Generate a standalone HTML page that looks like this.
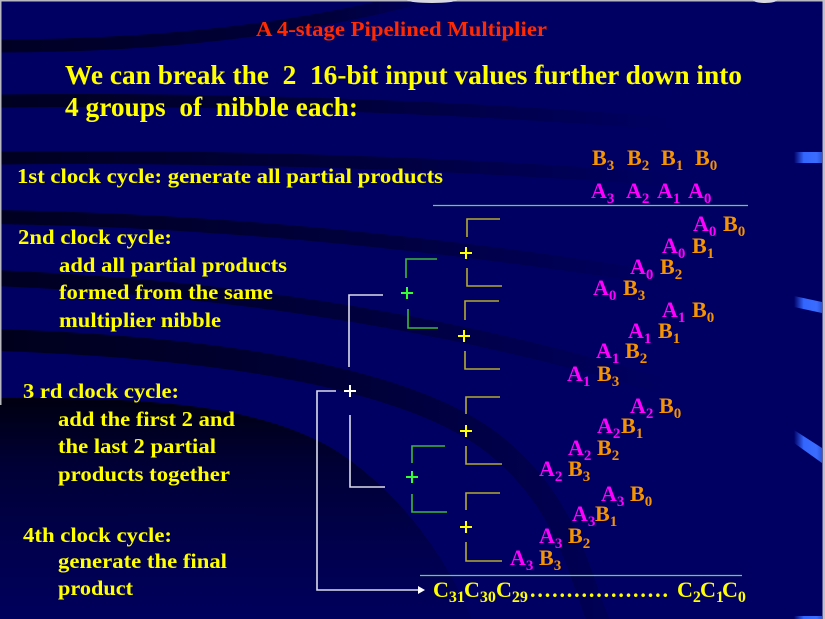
<!DOCTYPE html>
<html>
<head>
<meta charset="utf-8">
<style>
  html, body { margin: 0; padding: 0; background: #000063; }
  body { width: 825px; height: 619px; overflow: hidden; }
  svg { display: block; }
  text { font-family: "Liberation Serif", "Times New Roman", serif; font-weight: bold; white-space: pre; }
  .y { fill: #ffff00; }
  .m { fill: #ff00ff; }
  .o { fill: #f59300; }
</style>
</head>
<body>
<svg width="825" height="619" viewBox="0 0 825 619" xmlns="http://www.w3.org/2000/svg">
  <defs>
    <linearGradient id="f1" gradientUnits="userSpaceOnUse" x1="0" y1="0" x2="460" y2="0">
      <stop offset="0" stop-color="#000010" stop-opacity="0.75"/>
      <stop offset="0.7" stop-color="#000010" stop-opacity="0.5"/>
      <stop offset="1" stop-color="#000010" stop-opacity="0"/>
    </linearGradient>
    <linearGradient id="f2" gradientUnits="userSpaceOnUse" x1="0" y1="0" x2="680" y2="0">
      <stop offset="0" stop-color="#000010" stop-opacity="0.8"/>
      <stop offset="0.55" stop-color="#000010" stop-opacity="0.45"/>
      <stop offset="1" stop-color="#000010" stop-opacity="0"/>
    </linearGradient>
    <linearGradient id="fA" gradientUnits="userSpaceOnUse" x1="0" y1="0" x2="620" y2="0">
      <stop offset="0" stop-color="#000010" stop-opacity="0.85"/>
      <stop offset="0.6" stop-color="#000010" stop-opacity="0.5"/>
      <stop offset="1" stop-color="#000010" stop-opacity="0.15"/>
    </linearGradient>
    <linearGradient id="fB" gradientUnits="userSpaceOnUse" x1="0" y1="400" x2="0" y2="619">
      <stop offset="0" stop-color="#000008" stop-opacity="0.9"/>
      <stop offset="0.3" stop-color="#000010" stop-opacity="0.55"/>
      <stop offset="0.7" stop-color="#000010" stop-opacity="0.25"/>
      <stop offset="1" stop-color="#000010" stop-opacity="0.08"/>
    </linearGradient>
    <linearGradient id="bar" gradientUnits="userSpaceOnUse" x1="794" y1="0" x2="822" y2="0">
      <stop offset="0" stop-color="#000066"/>
      <stop offset="0.35" stop-color="#3366ff"/>
      <stop offset="0.8" stop-color="#3a6cff"/>
      <stop offset="1" stop-color="#2a55dd"/>
    </linearGradient>
  </defs>

  <!-- background -->
  <rect x="0" y="0" width="825" height="619" fill="#000063"/>
  <path d="M-5,46 Q250,46 440,-8" stroke="url(#f1)" stroke-width="13" fill="none"/>
  <path d="M-5,101 Q350,97 700,126" stroke="url(#f2)" stroke-width="13" fill="none"/>
  <path d="M-5,158 Q350,154 700,182" stroke="url(#f2)" stroke-width="13" fill="none"/>
  <path d="M-5,217 Q300,221 660,278" stroke="url(#f2)" stroke-width="14" fill="none"/>
  <path d="M-5,278 Q350,292 660,385" stroke="url(#f2)" stroke-width="16" fill="none"/>
  <path d="M-5,340 C250,348 420,385 495,445 S580,580 600,625" stroke="url(#fA)" stroke-width="22" fill="none"/>
  <path d="M0,398 C150,397 260,405 335,450 C400,492 445,555 472,619 L0,619 Z" fill="url(#fB)"/>

  <!-- borders -->
  <rect x="0" y="0" width="825" height="1.5" fill="#b8b8c0"/>
  <rect x="0" y="0" width="1.5" height="405" fill="#b8b8c0"/>
  <rect x="822.5" y="0" width="2.5" height="619" fill="#c0c0c8"/>
  <ellipse cx="432" cy="0" rx="25" ry="3" fill="#d8d8e0"/>
  <ellipse cx="765" cy="0" rx="12" ry="3" fill="#d8d8e0"/>

  <!-- right blue bars -->
  <polygon points="794,152 822,152 822,163 794,163" fill="url(#bar)"/>
  <polygon points="794,296 822,302 822,313 794,307" fill="url(#bar)"/>
  <polygon points="794,430 822,448 822,463 794,443" fill="url(#bar)"/>
  <polygon points="794,616 822,616 822,619 794,619" fill="url(#bar)"/>

  <!-- title -->
  <text x="256" y="36" font-size="21.5" fill="#ff2a00" textLength="291" lengthAdjust="spacingAndGlyphs">A 4-stage Pipelined Multiplier</text>

  <!-- heading -->
  <text class="y" x="65" y="84" font-size="27" textLength="677" lengthAdjust="spacingAndGlyphs">We can break the  2  16-bit input values further down into</text>
  <text class="y" x="65" y="116" font-size="27" textLength="293" lengthAdjust="spacingAndGlyphs">4 groups  of  nibble each:</text>

  <!-- left column -->
  <g font-size="21.5" class="y">
    <text class="y" x="17" y="183" textLength="426" lengthAdjust="spacingAndGlyphs">1st clock cycle: generate all partial products</text>
    <text class="y" x="18" y="244" textLength="154" lengthAdjust="spacingAndGlyphs">2nd clock cycle:</text>
    <text class="y" x="59" y="272" textLength="228" lengthAdjust="spacingAndGlyphs">add all partial products</text>
    <text class="y" x="59" y="299" textLength="214" lengthAdjust="spacingAndGlyphs">formed from the same</text>
    <text class="y" x="59" y="327" textLength="162" lengthAdjust="spacingAndGlyphs">multiplier nibble</text>
    <text class="y" x="23" y="398" textLength="156" lengthAdjust="spacingAndGlyphs">3 rd clock cycle:</text>
    <text class="y" x="58" y="426" textLength="177" lengthAdjust="spacingAndGlyphs">add the first 2 and</text>
    <text class="y" x="58" y="453" textLength="158" lengthAdjust="spacingAndGlyphs">the last 2 partial</text>
    <text class="y" x="58" y="481" textLength="172" lengthAdjust="spacingAndGlyphs">products together</text>
    <text class="y" x="23" y="542" textLength="149" lengthAdjust="spacingAndGlyphs">4th clock cycle:</text>
    <text class="y" x="58" y="568" textLength="169" lengthAdjust="spacingAndGlyphs">generate the final</text>
    <text class="y" x="58" y="595" textLength="75" lengthAdjust="spacingAndGlyphs">product</text>
  </g>

  <!-- header B row / A row -->
  <text font-size="22">
    <tspan class="o" x="592" y="165">B</tspan><tspan class="o" y="170" font-size="15">3</tspan>
    <tspan class="o" x="627" y="165">B</tspan><tspan class="o" y="170" font-size="15">2</tspan>
    <tspan class="o" x="661" y="165">B</tspan><tspan class="o" y="170" font-size="15">1</tspan>
    <tspan class="o" x="695" y="165">B</tspan><tspan class="o" y="170" font-size="15">0</tspan>
  </text>
  <text font-size="22">
    <tspan class="m" x="591" y="198">A</tspan><tspan class="m" y="203" font-size="15">3</tspan>
    <tspan class="m" x="626" y="198">A</tspan><tspan class="m" y="203" font-size="15">2</tspan>
    <tspan class="m" x="657" y="198">A</tspan><tspan class="m" y="203" font-size="15">1</tspan>
    <tspan class="m" x="688" y="198">A</tspan><tspan class="m" y="203" font-size="15">0</tspan>
  </text>

  <!-- green lines -->
  <line x1="433" y1="205.5" x2="748" y2="205.5" stroke="#5fd65f" stroke-width="1.2"/>
  <line x1="420" y1="575.5" x2="742" y2="575.5" stroke="#5fd65f" stroke-width="1.2"/>

  <!-- partial products -->
  <g font-size="22">
    <text><tspan class="m" x="693" y="231">A</tspan><tspan class="m" y="236" font-size="15">0</tspan><tspan class="o" x="723" y="231">B</tspan><tspan class="o" y="236" font-size="15">0</tspan></text>
    <text><tspan class="m" x="662" y="253">A</tspan><tspan class="m" y="258" font-size="15">0</tspan><tspan class="o" x="692" y="253">B</tspan><tspan class="o" y="258" font-size="15">1</tspan></text>
    <text><tspan class="m" x="630" y="274">A</tspan><tspan class="m" y="279" font-size="15">0</tspan><tspan class="o" x="660" y="274">B</tspan><tspan class="o" y="279" font-size="15">2</tspan></text>
    <text><tspan class="m" x="593" y="295">A</tspan><tspan class="m" y="300" font-size="15">0</tspan><tspan class="o" x="623" y="295">B</tspan><tspan class="o" y="300" font-size="15">3</tspan></text>

    <text><tspan class="m" x="662" y="317">A</tspan><tspan class="m" y="322" font-size="15">1</tspan><tspan class="o" x="692" y="317">B</tspan><tspan class="o" y="322" font-size="15">0</tspan></text>
    <text><tspan class="m" x="628" y="338">A</tspan><tspan class="m" y="343" font-size="15">1</tspan><tspan class="o" x="658" y="338">B</tspan><tspan class="o" y="343" font-size="15">1</tspan></text>
    <text><tspan class="m" x="596" y="358">A</tspan><tspan class="m" y="363" font-size="15">1</tspan><tspan class="o" x="625" y="358">B</tspan><tspan class="o" y="363" font-size="15">2</tspan></text>
    <text><tspan class="m" x="567" y="381">A</tspan><tspan class="m" y="386" font-size="15">1</tspan><tspan class="o" x="597" y="381">B</tspan><tspan class="o" y="386" font-size="15">3</tspan></text>

    <text><tspan class="m" x="630" y="413">A</tspan><tspan class="m" y="418" font-size="15">2</tspan><tspan class="o" x="659" y="413">B</tspan><tspan class="o" y="418" font-size="15">0</tspan></text>
    <text><tspan class="m" x="597" y="433">A</tspan><tspan class="m" y="438" font-size="15">2</tspan><tspan class="o" x="621" y="433">B</tspan><tspan class="o" y="438" font-size="15">1</tspan></text>
    <text><tspan class="m" x="568" y="455">A</tspan><tspan class="m" y="460" font-size="15">2</tspan><tspan class="o" x="597" y="455">B</tspan><tspan class="o" y="460" font-size="15">2</tspan></text>
    <text><tspan class="m" x="539" y="476">A</tspan><tspan class="m" y="481" font-size="15">2</tspan><tspan class="o" x="568" y="476">B</tspan><tspan class="o" y="481" font-size="15">3</tspan></text>

    <text><tspan class="m" x="601" y="501">A</tspan><tspan class="m" y="506" font-size="15">3</tspan><tspan class="o" x="630" y="501">B</tspan><tspan class="o" y="506" font-size="15">0</tspan></text>
    <text><tspan class="m" x="572" y="521">A</tspan><tspan class="m" y="526" font-size="15">3</tspan><tspan class="o" x="595" y="521">B</tspan><tspan class="o" y="526" font-size="15">1</tspan></text>
    <text><tspan class="m" x="539" y="543">A</tspan><tspan class="m" y="548" font-size="15">3</tspan><tspan class="o" x="568" y="543">B</tspan><tspan class="o" y="548" font-size="15">2</tspan></text>
    <text><tspan class="m" x="510" y="565">A</tspan><tspan class="m" y="570" font-size="15">3</tspan><tspan class="o" x="539" y="565">B</tspan><tspan class="o" y="570" font-size="15">3</tspan></text>
  </g>

  <!-- final product row -->
  <g font-size="22" class="y">
    <text class="y"><tspan x="433" y="597">C</tspan><tspan y="602" font-size="16">31</tspan><tspan x="464" y="597">C</tspan><tspan y="602" font-size="16">30</tspan><tspan x="496" y="597">C</tspan><tspan y="602" font-size="16">29</tspan></text>
    <text class="y" x="530" y="597" textLength="138" lengthAdjust="spacing">...................</text>
    <text class="y"><tspan x="677" y="597">C</tspan><tspan y="602" font-size="16">2</tspan><tspan x="700" y="597">C</tspan><tspan y="602" font-size="16">1</tspan><tspan x="722" y="597">C</tspan><tspan y="602" font-size="16">0</tspan></text>
  </g>

  <!-- yellow brackets -->
  <g stroke="#b4aa30" stroke-width="1.6" fill="none">
    <path d="M500,219 H467 V237 M467,268 V286 H502"/>
    <path d="M499,301 H465 V320 M465,351 V369 H500"/>
    <path d="M500,397 H466 V414 M466,446 V464 H502"/>
    <path d="M500,493 H466 V510 M466,542 V561 H502"/>
  </g>
  <g stroke="#ffff00" stroke-width="2" fill="none">
    <path d="M460,253 H472 M466,247 V259"/>
    <path d="M458,336 H470 M464,330 V342"/>
    <path d="M460,431 H472 M466,425 V437"/>
    <path d="M460,527 H472 M466,521 V533"/>
  </g>

  <!-- green brackets -->
  <g stroke="#3cb83c" stroke-width="1.6" fill="none">
    <path d="M437,259 H406 V278 M408,309 V328 H438"/>
    <path d="M445,446 H412 V463 M412,494 V512 H447"/>
  </g>
  <g stroke="#33ff33" stroke-width="2" fill="none">
    <path d="M401,293 H413 M407,287 V299"/>
    <path d="M406,477 H418 M412,471 V483"/>
  </g>

  <!-- white bracket & output path -->
  <g stroke="#dcdcec" stroke-width="1.6" fill="none">
    <path d="M383,295 H349 V367"/>
    <path d="M350,415 V487 H385"/>
    <path d="M336,391 H317 V590 H419"/>
  </g>
  <polygon points="418,586 425,590 418,594" fill="#ffffff"/>
  <g stroke="#ffffff" stroke-width="2" fill="none">
    <path d="M344,391 H356 M350,385 V397"/>
  </g>
</svg>
</body>
</html>
